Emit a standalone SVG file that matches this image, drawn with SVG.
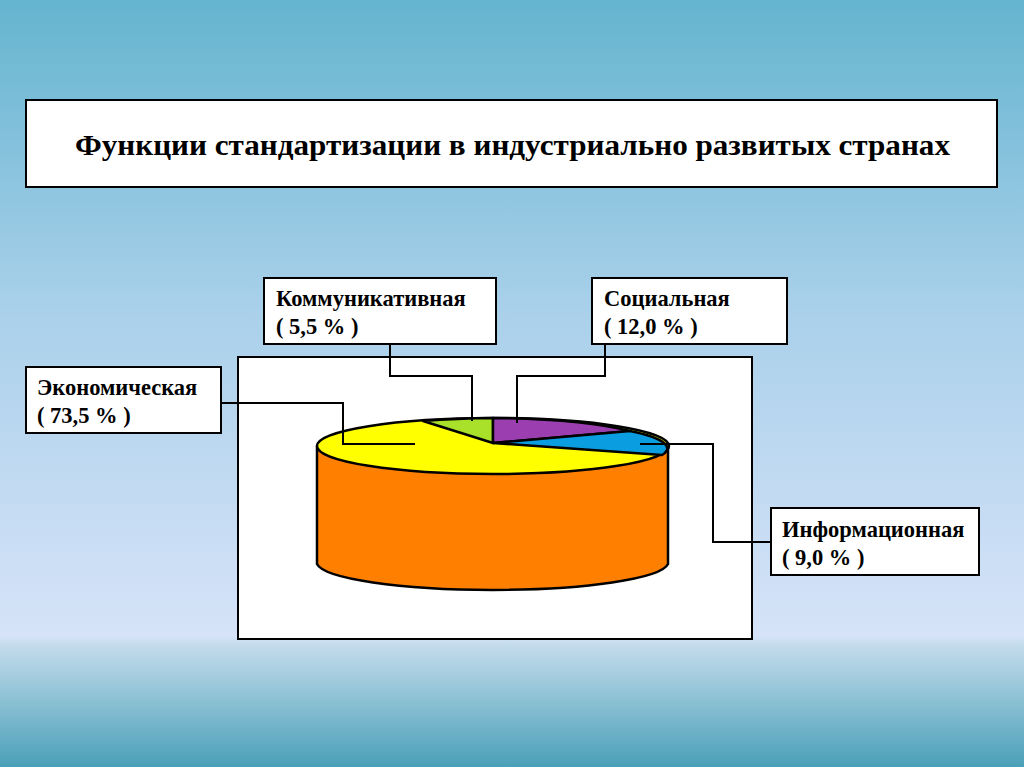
<svg xmlns="http://www.w3.org/2000/svg" width="1024" height="767" viewBox="0 0 1024 767">
<defs>
<linearGradient id="bg" x1="0" y1="0" x2="0" y2="1">
<stop offset="0" stop-color="#64b4cf"/><stop offset="0.4" stop-color="#a9d0ea"/><stop offset="0.83" stop-color="#d6e3f8"/><stop offset="0.84" stop-color="#c4dcec"/><stop offset="1" stop-color="#4aa0b8"/>
</linearGradient>
<style>
.box{fill:#fff;stroke:#000;stroke-width:2}
.t{font-family:"Liberation Serif",serif;font-weight:bold;font-size:22.5px;fill:#000}
.tt{font-family:"Liberation Serif",serif;font-weight:bold;font-size:29px;fill:#000}
.ln{fill:none;stroke:#000;stroke-width:2}
.w{stroke:#000;stroke-width:2.5;stroke-linejoin:round}
</style>
</defs>
<rect width="1024" height="767" fill="url(#bg)"/>
<g id="title"><rect class="box" x="26" y="100" width="971" height="87"/>
<text x="75" y="155" class="tt" textLength="875" lengthAdjust="spacingAndGlyphs">Функции стандартизации в индустриально развитых странах</text></g>
<g id="chart">
<rect class="box" x="238" y="357" width="514" height="282"/>
<path d="M317,446 V564 A176,28 0 0 0 668,564 V446 Z" fill="#ff8000" class="w"/>
<ellipse cx="493" cy="446" rx="176" ry="28" fill="#ffff00" class="w"/>
<path d="M493,443 L423,421 A176,28 0 0 1 493,418 Z" fill="#a8e02a" class="w"/>
<path d="M493,443 L493,418 A176,28 0 0 1 630,431 Z" fill="#9b3fb0" class="w"/>
<path d="M493,443 L630,431 A176,28 0 0 1 662,455 Z" fill="#0a9ee0" class="w"/>
</g>
<g id="connectors">
<polyline class="ln" points="221,403 343,403 343,444 415,444"/>
<polyline class="ln" points="390,344 390,376 472,376 472,421"/>
<polyline class="ln" points="605,344 605,376 517,376 517,423"/>
<polyline class="ln" points="640,444 713,444 713,542 771,542"/>
</g>
<g id="comm"><rect class="box" x="264" y="278" width="232" height="66"/>
<text x="276" y="306" class="t">Коммуникативная</text><text x="276" y="334" class="t">( 5,5 % )</text></g>
<g id="social"><rect class="box" x="592" y="278" width="195" height="66"/>
<text x="604" y="306" class="t">Социальная</text><text x="604" y="334" class="t">( 12,0 % )</text></g>
<g id="econ"><rect class="box" x="26" y="367" width="195" height="66"/>
<text x="37" y="395" class="t">Экономическая</text><text x="37" y="423" class="t">( 73,5 % )</text></g>
<g id="info"><rect class="box" x="771" y="508" width="208" height="67"/>
<text x="782" y="537" class="t">Информационная</text><text x="782" y="565" class="t">( 9,0 % )</text></g>
</svg>
